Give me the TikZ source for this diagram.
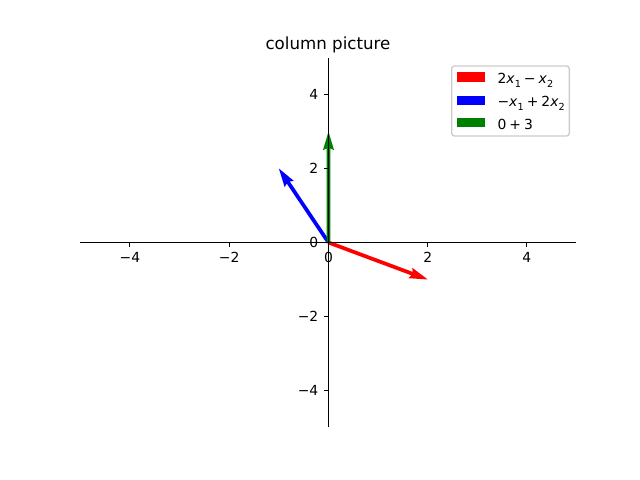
\documentclass[tikz,border=0pt]{standalone}
\usepackage{fontspec}
\setmainfont{DejaVu Sans}
\definecolor{mplgreen}{RGB}{0,128,0}
\definecolor{legedge}{RGB}{204,204,204}
\newcommand\sbs[1]{\raisebox{-0.28em}{\fontsize{7}{8}\selectfont #1}}
\newcommand\xv{\textit{x}}
\newcommand\bop[1]{\hspace{0.22em}#1\hspace{0.22em}}
\newcommand\quiv[3]{%
  \begin{scope}[shift={(O)},x=1pt,y=1pt,rotate=#2]
    \fill[#1] (0,-1.34) -- ({#3-12.06},-1.34) -- ({#3-13.4},-4.02) -- (#3,0)
      -- ({#3-13.4},4.02) -- ({#3-12.06},1.34) -- (0,1.34) -- cycle;
  \end{scope}}
\tikzset{
  axisline/.style={line width=0.8pt, black},
  tickmark/.style={line width=0.8pt, black},
  ticklabel/.style={font=\fontsize{10}{12}\selectfont, inner sep=0pt},
  legtext/.style={font=\fontsize{10}{12}\selectfont, inner sep=0pt, anchor=base west},
  legbox/.style={draw=legedge, fill=white, fill opacity=0.8, line width=1pt, rounded corners=2pt},
}
\begin{document}
\begin{tikzpicture}[x=0.72pt,y=-0.72pt]
\useasboundingbox (0,0) rectangle (640,480);
\coordinate (O) at (328.5,242.5);
% arrows
\quiv{red}{-20.44}{76.22}
\quiv{blue}{123.86}{64.09}
\quiv{mplgreen}{90}{79.83}
% axes
\coordinate (xl) at (80,242.5);
\coordinate (xr) at (576,242.5);
\coordinate (yt) at (328.5,57.6);
\coordinate (yb) at (328.5,427.2);
\draw[axisline] (xl) -- (xr);
\draw[axisline] (yb) -- (yt);
% x ticks
\foreach \v/\px in {-4/129.9,-2/229.1,0/328.5,2/427.7,4/526.9}{
  \coordinate (xt\v) at (\px,242.5);
  \draw[tickmark] (xt\v) -- ++(0,4.86);
  \node[ticklabel, anchor=north] (xlab\v) at (\px,252.1) {\ifnum\v<0 −\the\numexpr-\v\relax\else\v\fi};
}
% y ticks
\foreach \v/\py in {4/94.6,2/168.5,0/242.5,-2/316.3,-4/390.2}{
  \coordinate (yt\v) at (328.5,\py);
  \draw[tickmark] (yt\v) -- ++(-4.86,0);
  \node[ticklabel, anchor=east] (ylab\v) at (318.6,\py) {\ifnum\v<0 −\the\numexpr-\v\relax\else\v\fi};
}
% title
\node[font=\fontsize{12}{14}\selectfont, inner sep=0pt, anchor=base] (title) at (328,49.3) {column picture};
% legend
\draw[legbox] (451.7,66) rectangle (569.3,136);
\fill[red] (457.3,72.3) rectangle (485,81.7);
\fill[blue] (457.3,95.9) rectangle (485,105.2);
\fill[mplgreen] (457.3,117.7) rectangle (485,127);
\node[legtext] (l1) at (497.3,83.3) {2\xv\sbs{1}\bop{−}\xv\sbs{2}};
\node[legtext] (l2) at (497.3,106.7) {−\xv\sbs{1}\bop{+}2\xv\sbs{2}};
\node[legtext] (l3) at (497.3,129) {0\bop{+}3};
\end{tikzpicture}
\end{document}
